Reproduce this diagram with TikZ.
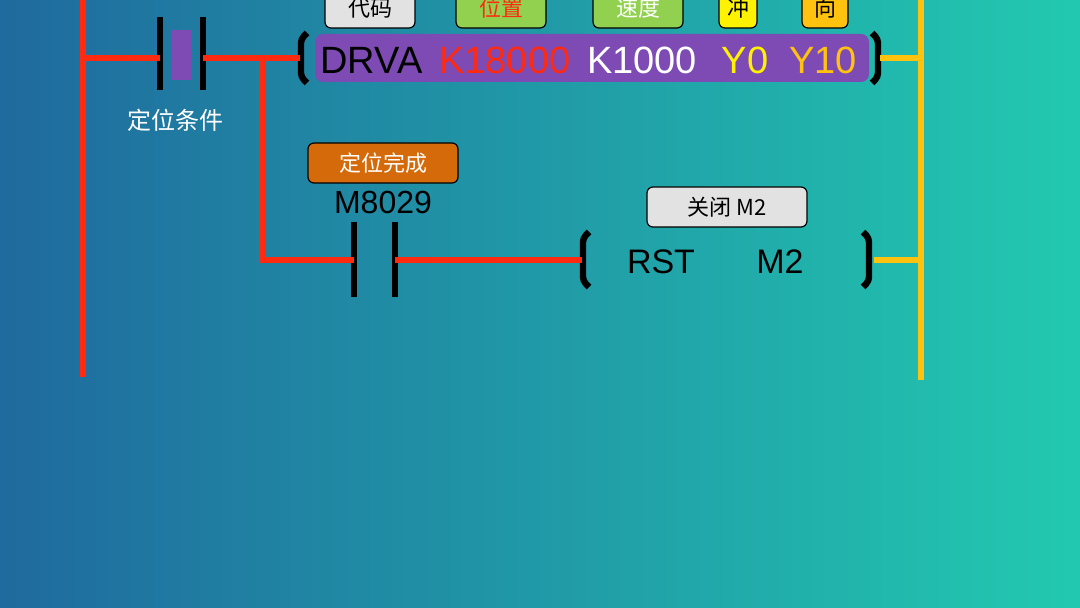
\documentclass[tikz,border=0pt]{standalone}
\usepackage{fontspec}
\setmainfont{Liberation Sans}
\newfontfamily\cjk{Noto Sans CJK SC}
\usetikzlibrary{positioning, calc}

\definecolor{railred}{HTML}{FF2A10}
\definecolor{railyellow}{HTML}{FFC20E}
\definecolor{bgleft}{HTML}{1F6A9E}
\definecolor{bgright}{HTML}{22C9B0}
\definecolor{drvapurple}{HTML}{7E4AB4}
\definecolor{tagorange}{HTML}{D46A0A}
\definecolor{taggreen}{HTML}{92D050}
\definecolor{taggray}{HTML}{E2E2E2}

\begin{document}
\begin{tikzpicture}[
    x=0.5pt, y=-0.5pt,
    redwire/.style={draw=railred, line width=3pt},
    yellowwire/.style={draw=railyellow, line width=3pt},
    contactbar/.style={draw=black, line width=3pt},
    bracket/.style={draw=black, line width=3.2pt, rounded corners=2pt},
    tagbox/.style={rectangle, draw=black, line width=0.6pt, rounded corners=3pt, minimum width=45pt, minimum height=20pt, font=\cjk\fontsize{11}{11}\selectfont},
    instr/.style={font=\fontsize{19}{19}\selectfont, inner sep=1pt},
]
% ============ Background ============
\clip (0,0) rectangle (1080,608);
\shade[left color=bgleft, right color=bgright] (0,0) rectangle (1080,608);

% ============ Rails ============
\coordinate (ltop) at (83,0);
\coordinate (lbot) at (83,377);
\coordinate (rtop) at (921,0);
\coordinate (rbot) at (921,380);
\draw[redwire] (ltop) -- (lbot);
\draw[yellowwire] (rtop) -- (rbot);

% ============ Rung 1: DRVA ============
\fill[drvapurple] (172,30) rectangle (191,80);
\coordinate (c1a) at (160,58);
\coordinate (c1b) at (203,58);
\draw[contactbar] (160,17) -- (160,90);
\draw[contactbar] (203,17) -- (203,90);
\node[text=white, font=\cjk\fontsize{12}{12}\selectfont] (cond) at (175,120) {定位条件};

\node[rectangle, fill=drvapurple, rounded corners=4pt, minimum width=277pt, minimum height=24pt] (drva) at (592,58) {};
\node[instr, anchor=west] (op) at (318,60) {DRVA};
\node[instr, text=railred, right=6pt of op] (pos) {K18000};
\node[instr, text=white, right=6pt of pos] (spd) {K1000};
\node[instr, text=yellow, right=10pt of spd] (pulse) {Y0};
\node[instr, text=railyellow, right=8pt of pulse] (dir) {Y10};
\draw[bracket] (307,33) -- (301,39) -- (301,77) -- (307,83);
\draw[bracket] (872,33) -- (878,39) -- (878,77) -- (872,83);
\coordinate (d1l) at (300,58);
\coordinate (d1r) at (880,58);
\coordinate (j1) at (263,58);

\draw[redwire] (ltop |- c1a) -- (c1a);
\draw[redwire] (c1b) -- (d1l);
\draw[yellowwire] (d1r) -- (rtop |- d1r);

% tags over the instruction
\node[tagbox, fill=taggray, minimum width=45pt] (tcode) at (370,8) {代码};
\node[tagbox, fill=taggreen, text=railred] (tpos) at (501,8) {位置};
\node[tagbox, fill=taggreen, text=white] (tspd) at (638,8) {速度};
\node[tagbox, fill=yellow, minimum width=19pt] (tpulse) at (738,8) {冲};
\node[tagbox, fill=railyellow, minimum width=23pt] (tdir) at (825,8) {向};

% ============ Rung 2: RST ============
\coordinate (j2) at (263,260);
\coordinate (c2a) at (354,260);
\coordinate (c2b) at (395,260);
\draw[contactbar] (354,222) -- (354,297);
\draw[contactbar] (395,222) -- (395,297);
\node[tagbox, fill=tagorange, text=white, minimum width=75pt] (done) at (383,163) {定位完成};
\node[font=\fontsize{16}{16}\selectfont, below=0pt of done] (m8029) {M8029};

\draw[bracket] (589,232) -- (583,238) -- (583,281) -- (589,287);
\draw[bracket] (863,232) -- (869,238) -- (869,281) -- (863,287);
\node[instr, font=\fontsize{17}{17}\selectfont] (rst) at (661,262) {RST};
\node[instr, font=\fontsize{17}{17}\selectfont] (m2) at (780,262) {M2};
\node[tagbox, fill=taggray, minimum width=80pt] (close) at (727,207) {关闭 M2};
\coordinate (d2l) at (582,260);
\coordinate (d2r) at (874,260);

\draw[redwire] (j1) -- (j2) -- (c2a);
\draw[redwire] (c2b) -- (d2l);
\draw[yellowwire] (d2r) -- (rtop |- d2r);
\end{tikzpicture}
\end{document}
